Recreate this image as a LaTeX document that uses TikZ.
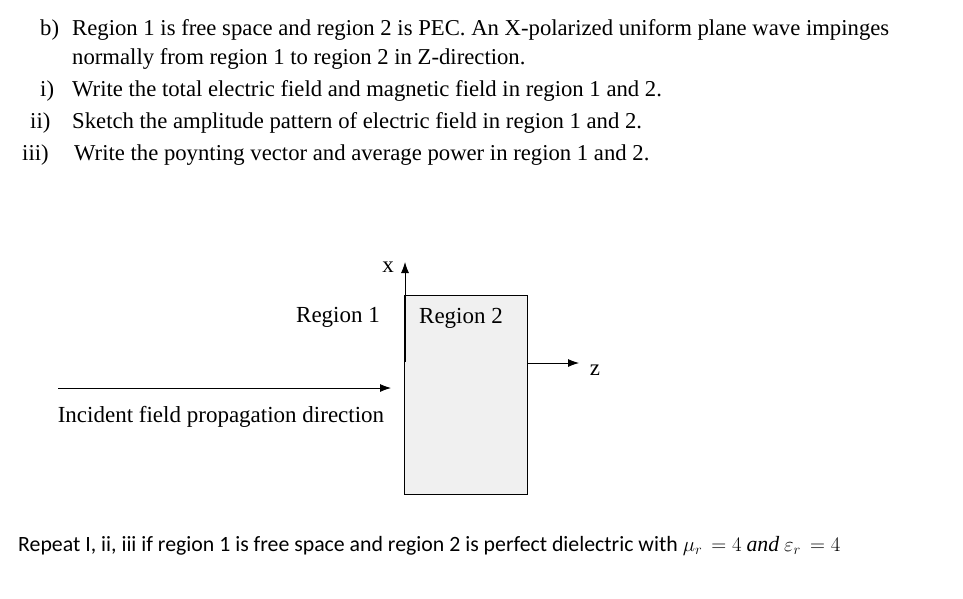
\documentclass[tikz,border=0pt]{standalone}
\usepackage{fontspec}
\usetikzlibrary{arrows.meta}
\setmainfont{Liberation Serif}
\newfontfamily\carlitofont{Carlito}
\begin{document}
\begin{tikzpicture}[x=1pt,y=-1pt,
  txt/.style={anchor=base west,inner sep=0pt,font=\fontsize{22.7}{26}\selectfont},
  lbl/.style={inner sep=0pt,font=\fontsize{23}{26}\selectfont},
  arr/.style={-{Latex[length=11pt,width=8pt]},line width=0.8pt}]
\useasboundingbox (0,0) rectangle (963,598);
\node[txt] (b) at (40,35) {b)};
\node[txt] (bt) at (72,35) {Region 1 is free space and region 2 is PEC. An X-polarized uniform plane wave impinges};
\node[txt] (bt2) at (72,64) {normally from region 1 to region 2 in Z-direction.};
\node[txt] (i) at (40,96) {i)};
\node[txt] (it) at (72,96) {Write the total electric field and magnetic field in region 1 and 2.};
\node[txt] (ii) at (30,128) {ii)};
\node[txt] (iit) at (72,128) {Sketch the amplitude pattern of electric field in region 1 and 2.};
\node[txt] (iii) at (22,160) {iii)};
\node[txt] (iiit) at (74,160) {Write the poynting vector and average power in region 1 and 2.};
\node[draw,fill=black!6,line width=0.8pt,minimum width=123pt,minimum height=199pt,anchor=north west,inner sep=0pt] (box) at (404,295) {};
\coordinate (xtip) at (405,262);
\draw[arr] (box.north west) ++(1,0) -- (xtip);
\draw[line width=2pt] (405,295) -- (405,362);
\node[lbl] (xl) at (388,267) {x};
\coordinate (ztip) at (579,363);
\draw[arr] (box.east |- ztip) -- (ztip);
\node[lbl] (zl) at (595,370) {z};
\coordinate (ia) at (58,388);
\coordinate (ib) at (391,388);
\draw[arr] (ia) -- (ib);
\node[lbl] (inc) at (221,417) {Incident field propagation direction};
\node[lbl] (r1) at (338,317) {Region 1};
\node[lbl] (r2) at (461,318) {Region 2};
\node[anchor=base west,inner sep=0pt,font=\carlitofont\fontsize{21.8}{26}\selectfont] (rep) at (18,551) {Repeat I, ii, iii if region 1 is free space and region 2 is perfect dielectric with $\mu_r\,=4\ \mathit{and}\ \varepsilon_r\,=4$};
\end{tikzpicture}
\end{document}
